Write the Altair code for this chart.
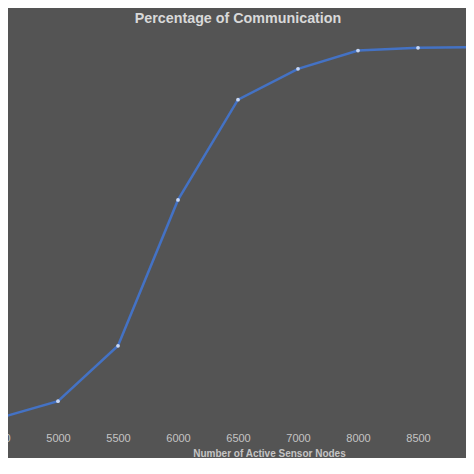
import altair as alt
import pandas as pd

nodes = ["4500", "5000", "5500", "6000", "6500", "7000", "8000", "8500", "9000"]
percent = [3.0, 7.4, 21.6, 59.0, 84.7, 92.6, 97.3, 98.0, 98.2]

df = pd.DataFrame({"nodes": nodes, "percent": percent})

chart = alt.Chart(df).mark_line(
    color="#4472C4",
    strokeWidth=2.5,
    point=alt.OverlayMarkDef(filled=True, color="#c9d8f4", size=14),
).encode(
    x=alt.X(
        "nodes:N",
        sort=None,
        scale=alt.Scale(paddingOuter=0.5),
        axis=alt.Axis(
            title="Number of Active Sensor Nodes",
            labelAngle=0,
            labelColor="#c4c4c4",
            labelFontSize=11,
            labelFont="Liberation Sans",
            labelPadding=2,
            domain=False,
            ticks=False,
            titleColor="#c4c4c4",
            titleFontSize=10,
            titleFont="Liberation Sans",
            titleFontWeight="bold",
            titleX=301,
            titleY=23,
            titleBaseline="middle",
        ),
    ),
    y=alt.Y("percent:Q", scale=alt.Scale(domain=[0, 100]), axis=None),
).properties(
    width=540,
    height=390,
    padding={"left": -40, "top": 32, "right": -42, "bottom": 28},
    autosize=alt.AutoSizeParams(type="none"),
    background="#545454",
    title=alt.TitleParams(
        "Percentage of Communication",
        color="#d9d9d9",
        fontSize=14.3,
        font="Liberation Sans",
        fontWeight="bold",
        anchor="middle",
        offset=14,
    ),
).configure_view(stroke=None)

chart.save("out.html", embed_options={"renderer": "svg", "actions": False})
